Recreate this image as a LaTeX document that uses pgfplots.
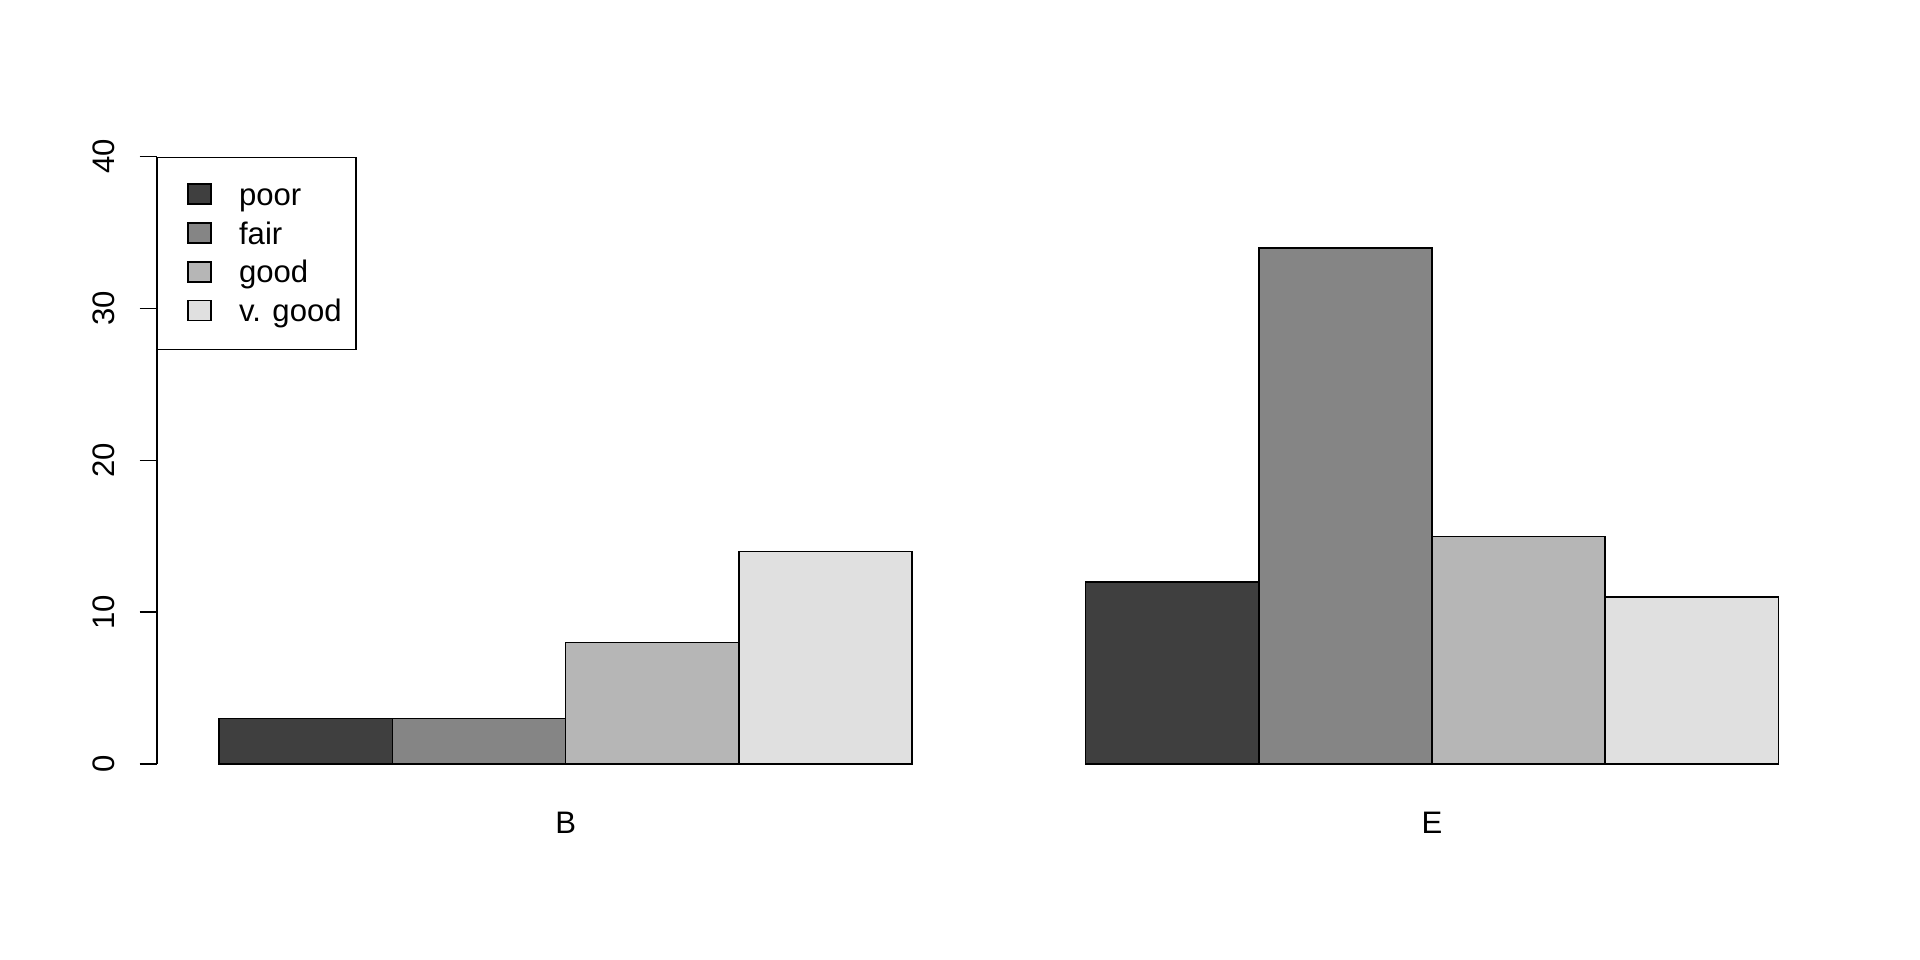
\documentclass[border=0pt]{standalone}
\usepackage{fontspec}
\setmainfont{Liberation Sans}
\usepackage{pgfplots}
\pgfplotsset{compat=1.18}
\definecolor{cpoor}{HTML}{3F3F3F}
\definecolor{cfair}{HTML}{858585}
\definecolor{cgood}{HTML}{B6B6B6}
\definecolor{cvgood}{HTML}{E0E0E0}
\pgfplotsset{
  mylegend/.style={legend image code/.code={\path (0bp,0bp); \draw[##1, draw=black, line width=0.8bp] (7.4bp,-4.5bp) rectangle (18.9bp,5.5bp);}},
}
\begin{document}
\begin{tikzpicture}
\useasboundingbox (0,0) rectangle (960bp,480bp);
\begin{axis}[
  at={(78.35bp,85.8bp)}, anchor=south west,
  scale only axis, width=842.1bp, height=328bp,
  xmin=0.64, xmax=10.36, ymin=-1.6, ymax=41.6,
  axis lines*=left,
  axis line style={draw=none},
  clip=false,
  font=\fontsize{15.6}{18}\selectfont,
  /pgf/number format/assume math mode=true,
  ytick={0,10,20,30,40},
  xtick={3,8}, xticklabels={B,E},
  x tick style={draw=none},
  y tick style={black, line width=0.8bp},
  tick align=outside,
  major tick length=8.6bp,
  yticklabel style={rotate=90, anchor=south, inner sep=0pt},
  yticklabel shift=12.25bp,
  xticklabel style={anchor=north, inner sep=0pt},
  xticklabel shift=3bp,
  legend style={draw=black, line width=0.8bp, at={(0,0.963)}, anchor=north west,
    cells={anchor=west}, nodes={inner sep=0pt, text height=14bp, text depth=4bp},
    column sep=13.8bp, row sep=1.4bp, inner xsep=7.3bp, inner ysep=9.9bp,
    font=\fontsize{15.6}{18}\selectfont},
]
\draw[line width=0.8bp] (axis cs:0.64,0) -- (axis cs:0.64,40);
\addplot[ybar, bar width=1, bar shift=0pt, fill=cpoor, draw=black, line width=0.8bp, mylegend] coordinates {(1.5,3) (6.5,12)};
\addplot[ybar, bar width=1, bar shift=0pt, fill=cfair, draw=black, line width=0.8bp, mylegend] coordinates {(2.5,3) (7.5,34)};
\addplot[ybar, bar width=1, bar shift=0pt, fill=cgood, draw=black, line width=0.8bp, mylegend] coordinates {(3.5,8) (8.5,15)};
\addplot[ybar, bar width=1, bar shift=0pt, fill=cvgood, draw=black, line width=0.8bp, mylegend] coordinates {(4.5,14) (9.5,11)};
\legend{poor, fair, good, v. good}
\end{axis}
\end{tikzpicture}
\end{document}
